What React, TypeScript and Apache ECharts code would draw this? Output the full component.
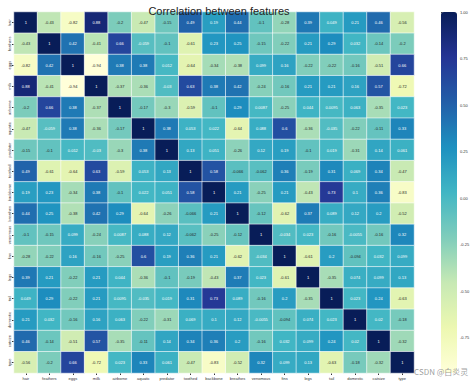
import React, { useEffect, useRef } from "react";
import * as echarts from "echarts";

const features = [
  "hair", "feathers", "eggs", "milk", "airborne", "aquatic", "predator", "toothed",
  "backbone", "breathes", "venomous", "fins", "legs", "tail", "domestic", "catsize", "type",
];

const hair = [1, -0.43, -0.82, 0.88, -0.2, -0.47, -0.15, 0.49, 0.19, 0.44, -0.1, -0.28, 0.39, 0.049, 0.21, 0.46, -0.56];
const feathers = [-0.43, 1, 0.42, -0.41, 0.66, -0.059, -0.1, -0.61, 0.23, 0.25, -0.15, -0.22, 0.21, 0.29, 0.032, -0.14, -0.2];
const eggs = [-0.82, 0.42, 1, -0.94, 0.38, 0.38, 0.012, -0.64, -0.34, -0.38, 0.099, 0.16, -0.22, -0.22, -0.16, -0.51, 0.66];
const milk = [0.88, -0.41, -0.94, 1, -0.37, -0.36, -0.03, 0.63, 0.38, 0.42, -0.24, -0.16, 0.21, 0.21, 0.16, 0.57, -0.72];
const airborne = [-0.2, 0.66, 0.38, -0.37, 1, -0.17, -0.3, -0.59, -0.1, 0.29, 0.0087, -0.25, 0.044, 0.0095, 0.063, -0.35, 0.023];
const aquatic = [-0.47, -0.059, 0.38, -0.36, -0.17, 1, 0.38, 0.053, 0.022, -0.64, 0.088, 0.6, -0.36, -0.035, -0.22, -0.11, 0.33];
const predator = [-0.15, -0.1, 0.012, -0.03, -0.3, 0.38, 1, 0.13, 0.051, -0.26, 0.12, 0.19, -0.1, 0.019, -0.31, 0.14, 0.061];
const toothed = [0.49, -0.61, -0.64, 0.63, -0.59, 0.053, 0.13, 1, 0.58, -0.066, -0.062, 0.36, -0.19, 0.31, 0.069, 0.34, -0.47];
const backbone = [0.19, 0.23, -0.34, 0.38, -0.1, 0.022, 0.051, 0.58, 1, 0.21, -0.25, 0.21, -0.43, 0.73, 0.1, 0.36, -0.83];
const breathes = [0.44, 0.25, -0.38, 0.42, 0.29, -0.64, -0.26, -0.066, 0.21, 1, -0.12, -0.62, 0.37, 0.089, 0.12, 0.2, -0.52];
const venomous = [-0.1, -0.15, 0.099, -0.24, 0.0087, 0.088, 0.12, -0.062, -0.25, -0.12, 1, -0.034, 0.023, -0.16, -0.0055, -0.16, 0.32];
const fins = [-0.28, -0.22, 0.16, -0.16, -0.25, 0.6, 0.19, 0.36, 0.21, -0.62, -0.034, 1, -0.61, 0.2, -0.094, 0.032, 0.099];
const legs = [0.39, 0.21, -0.22, 0.21, 0.044, -0.36, -0.1, -0.19, -0.43, 0.37, 0.023, -0.61, 1, -0.35, 0.074, 0.099, 0.13];
const tail = [0.049, 0.29, -0.22, 0.21, 0.0095, -0.035, 0.019, 0.31, 0.73, 0.089, -0.16, 0.2, -0.35, 1, 0.023, 0.24, -0.63];
const domestic = [0.21, 0.032, -0.16, 0.16, 0.063, -0.22, -0.31, 0.069, 0.1, 0.12, -0.0055, -0.094, 0.074, 0.023, 1, 0.02, -0.18];
const catsize = [0.46, -0.14, -0.51, 0.57, -0.35, -0.11, 0.14, 0.34, 0.36, 0.2, -0.16, 0.032, 0.099, 0.24, 0.02, 1, -0.32];
const type = [-0.56, -0.2, 0.66, -0.72, 0.023, 0.33, 0.061, -0.47, -0.83, -0.52, 0.32, 0.099, 0.13, -0.63, -0.18, -0.32, 1];

const rows = [hair, feathers, eggs, milk, airborne, aquatic, predator, toothed, backbone, breathes, venomous, fins, legs, tail, domestic, catsize, type];

const colorbarTicks = [-0.75, -0.5, -0.25, 0, 0.25, 0.5, 0.75, 1];
const vMin = -0.94;
const vMax = 1;

const ylgnbu = ["#ffffd9", "#edf8b1", "#c7e9b4", "#7fcdbb", "#41b6c4", "#1d91c0", "#225ea8", "#253494", "#081d58"];

export default function App() {
  const ref = useRef<HTMLDivElement>(null);
  useEffect(() => {
    if (!ref.current) return;
    const chart = echarts.init(ref.current, undefined, { renderer: "svg" });
    const data: any[] = [];
    rows.forEach((row, yi) => {
      row.forEach((v, xi) => {
        data.push({
          value: [xi, yi, v],
          label: { color: v > -0.06 ? "#ffffff" : "#262626" },
        });
      });
    });
    const font = "Liberation Sans, Arial, sans-serif";
    chart.setOption({
      animation: false,
      backgroundColor: "#ffffff",
      title: {
        text: "Correlation between features",
        left: 214,
        textAlign: "center",
        top: 0,
        textStyle: { fontSize: 11, fontWeight: "normal", color: "#222", fontFamily: font },
      },
      grid: [
        { left: 14, top: 12, width: 400, height: 361 },
        { left: 441, top: 12, width: 16, height: 361 },
      ],
      xAxis: [
        {
          gridIndex: 0,
          type: "category",
          data: features,
          position: "bottom",
          axisLine: { show: false },
          axisTick: { show: true, length: 2, alignWithLabel: true, lineStyle: { color: "#333" } },
          axisLabel: { fontSize: 4, color: "#333", margin: 3, fontFamily: font, interval: 0 },
          splitLine: { show: false },
        },
        { gridIndex: 1, type: "value", show: false, min: 0, max: 1 },
      ],
      yAxis: [
        {
          gridIndex: 0,
          type: "category",
          data: features,
          inverse: true,
          axisLine: { show: false },
          axisTick: { show: true, length: 2, alignWithLabel: true, lineStyle: { color: "#333" } },
          axisLabel: { fontSize: 4, color: "#333", margin: 3, rotate: 90, fontFamily: font, interval: 0 },
          splitLine: { show: false },
        },
        {
          gridIndex: 1,
          type: "value",
          position: "right",
          min: vMin,
          max: vMax,
          axisLine: { show: false },
          splitLine: { show: false },
          axisTick: { show: true, length: 2, customValues: colorbarTicks, lineStyle: { color: "#333" } },
          axisLabel: {
            fontSize: 4,
            color: "#333",
            margin: 3,
            fontFamily: font,
            customValues: colorbarTicks,
            formatter: (v: number) => v.toFixed(2),
          },
        },
      ],
      visualMap: {
        type: "continuous",
        min: vMin,
        max: vMax,
        seriesIndex: 0,
        dimension: 2,
        calculable: false,
        hoverLink: false,
        left: 441,
        top: 12,
        itemWidth: 16,
        itemHeight: 361,
        padding: 0,
        text: ["", ""],
        showLabel: false,
        inRange: { color: ylgnbu },
      },
      series: [
        {
          type: "heatmap",
          xAxisIndex: 0,
          yAxisIndex: 0,
          data,
          itemStyle: { borderColor: "#ffffff", borderWidth: 0.6 },
          label: {
            show: true,
            fontSize: 4,
            fontFamily: font,
            formatter: (p: any) => {
              const v = p.value[2];
              return String(Number(v.toPrecision(2)));
            },
          },
        },
      ],
      graphic: [
        {
          type: "text",
          left: 414,
          top: 367,
          z: 100,
          style: {
            text: "CSDN @白炎灵",
            fontSize: 8,
            fontFamily: "Noto Sans CJK SC, sans-serif",
            fill: "rgba(140,140,140,0.85)",
          },
        },
      ],
    });
    return () => chart.dispose();
  }, []);
  return (
    <div
      ref={ref}
      style={{ position: "fixed", left: 0, top: 0, width: 474, height: 384 }}
    />
  );
}
